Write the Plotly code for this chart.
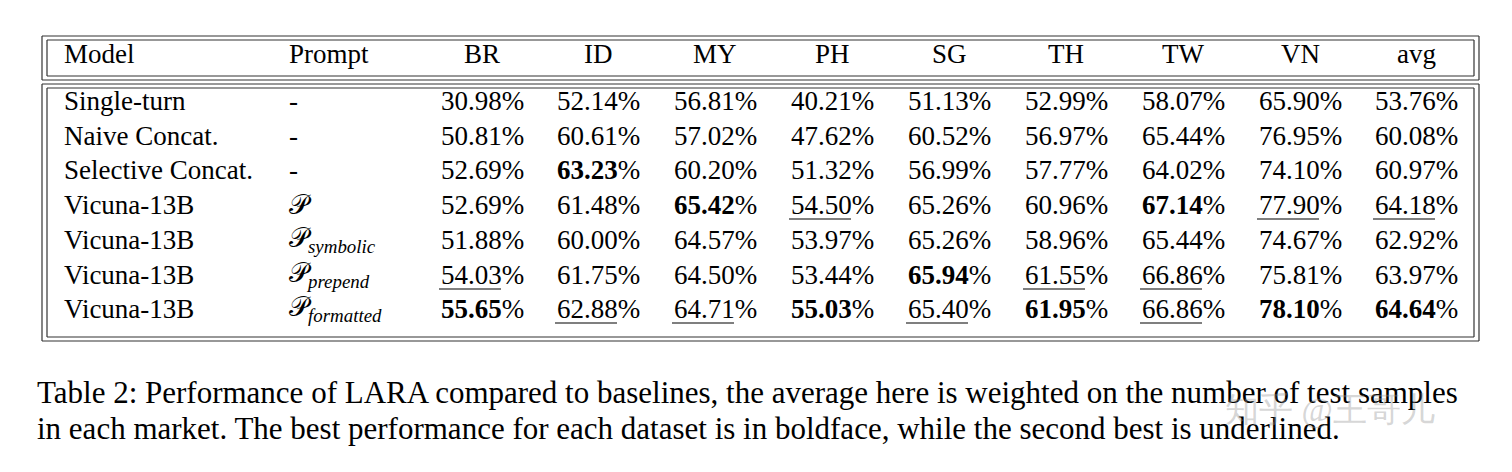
import plotly.graph_objects as go

headers = ["Model", "Prompt", "BR", "ID", "MY", "PH", "SG", "TH", "TW", "VN", "avg"]
models = ["Single-turn", "Naive Concat.", "Selective Concat.", "Vicuna-13B", "Vicuna-13B", "Vicuna-13B", "Vicuna-13B"]
prompts = ["-", "-", "-", "𝒫", "𝒫<sub><i>symbolic</i></sub>", "𝒫<sub><i>prepend</i></sub>", "𝒫<sub><i>formatted</i></sub>"]
values = [
    ["30.98", "52.14", "56.81", "40.21", "51.13", "52.99", "58.07", "65.90", "53.76"],
    ["50.81", "60.61", "57.02", "47.62", "60.52", "56.97", "65.44", "76.95", "60.08"],
    ["52.69", "63.23", "60.20", "51.32", "56.99", "57.77", "64.02", "74.10", "60.97"],
    ["52.69", "61.48", "65.42", "54.50", "65.26", "60.96", "67.14", "77.90", "64.18"],
    ["51.88", "60.00", "64.57", "53.97", "65.26", "58.96", "65.44", "74.67", "62.92"],
    ["54.03", "61.75", "64.50", "53.44", "65.94", "61.55", "66.86", "75.81", "63.97"],
    ["55.65", "62.88", "64.71", "55.03", "65.40", "61.95", "66.86", "78.10", "64.64"],
]
styles = [
    ["", "", "", "", "", "", "", "", ""],
    ["", "", "", "", "", "", "", "", ""],
    ["", "b", "", "", "", "", "", "", ""],
    ["", "", "b", "u", "", "", "b", "u", "u"],
    ["", "", "", "", "", "", "", "", ""],
    ["u", "", "", "", "b", "u", "u", "", ""],
    ["b", "u", "u", "b", "u", "b", "u", "b", "b"],
]
caption = ["Table 2: Performance of LARA compared to baselines, the average here is weighted on the number of test samples",
           "in each market. The best performance for each dataset is in boldface, while the second best is underlined."]

col_x = [62, 287, 482, 598, 715, 832, 949, 1066, 1183, 1300, 1416]
header_y = 54
row_y = [101, 136, 170, 205, 240, 275, 309]
F = "Liberation Serif"
FS = 27

fig = go.Figure()
anns, shapes = [], []
def txt(x, y, t, anchor="center", size=FS, color="black"):
    anns.append(dict(x=x, y=y, text=t, xref="x", yref="y", showarrow=False,
                     xanchor=anchor, yanchor="middle", font=dict(family=F, size=size, color=color)))

for i, h in enumerate(headers):
    txt(col_x[i], header_y, h, "left" if i < 2 else "center")
for r in range(len(models)):
    y = row_y[r]
    txt(col_x[0], y, models[r], "left")
    txt(col_x[1], y, prompts[r], "left")
    for c in range(9):
        v = values[r][c]; s = styles[r][c]
        t = f"<b>{v}</b>%" if s == "b" else f"{v}%"
        cx = col_x[c + 2]
        txt(cx, y, t)
        if s == "u":
            left = cx - 43
            shapes.append(dict(type="line", xref="x", yref="y", x0=left, x1=left + 62,
                               y0=y + 14, y1=y + 14, line=dict(color="black", width=1.2)))

def line(x0, y0, x1, y1):
    shapes.append(dict(type="line", xref="x", yref="y", x0=x0, y0=y0, x1=x1, y1=y1,
                       line=dict(color="#333", width=1.2)))
L1, L2, R1, R2 = 42, 47, 1474, 1479
for yy in [36, 80, 84, 341]:
    line(L1, yy, R2, yy)
line(L2, 40, R1, 40); line(L2, 76, R1, 76)
line(L2, 88, R1, 88); line(L2, 337, R1, 337)
for xx, ys in [(L1, (36, 80)), (R2, (36, 80)), (L1, (84, 341)), (R2, (84, 341))]:
    line(xx, ys[0], xx, ys[1])
for xx in [L2, R1]:
    line(xx, 40, xx, 76); line(xx, 88, xx, 337)

txt(35, 392, caption[0], "left", 31)
txt(35, 428, caption[1], "left", 31)
txt(1330, 410, "知乎 @王哥儿", "center", 34, "rgba(150,150,150,0.4)")

# page body has an 8px margin; shift the axis ranges so pixel coordinates match
fig.update_layout(width=1512, height=472, margin=dict(l=0, r=0, t=0, b=0),
                  paper_bgcolor="white", plot_bgcolor="white",
                  annotations=anns, shapes=shapes, showlegend=False,
                  xaxis=dict(range=[8, 1520], visible=False, fixedrange=True),
                  yaxis=dict(range=[480, 8], visible=False, fixedrange=True))
fig.write_html("out.html")
